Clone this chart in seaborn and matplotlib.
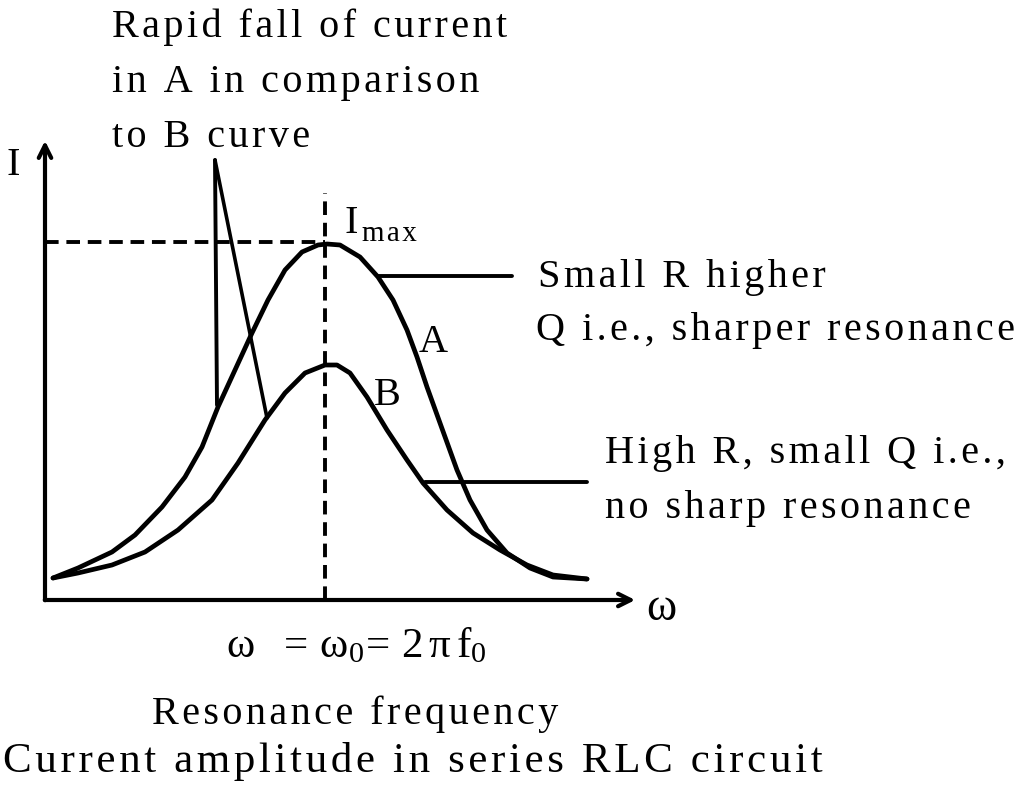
import pandas as pd
import seaborn as sns
import matplotlib.pyplot as plt

sns.set_style("white")
plt.rcParams['font.family'] = ['Liberation Serif', 'DejaVu Serif']
plt.rcParams['mathtext.fontset'] = 'custom'
plt.rcParams['mathtext.rm'] = 'Liberation Serif'
plt.rcParams['mathtext.it'] = 'Liberation Serif'

# curve A (small R, sharp resonance): frequency vs current (arbitrary units)
freq_a = [8, 33, 67, 90, 117, 140, 157, 173, 190, 207, 223, 240, 257, 273, 282,
          295, 315, 333, 348, 362, 372, 382, 395, 412, 425, 442, 462, 485, 508, 542]
curr_a = [22, 32, 48, 65, 93, 123, 153, 193, 230, 267, 300, 330, 348, 355, 356,
          355, 343, 323, 300, 270, 243, 213, 177, 130, 100, 70, 47, 32, 23, 21]

# curve B (high R, broad resonance)
freq_b = [8, 33, 67, 100, 133, 167, 193, 220, 240, 260, 280, 292, 305, 322,
          342, 362, 378, 402, 428, 455, 482, 508, 542]
curr_b = [22, 27, 35, 48, 70, 100, 137, 180, 207, 227, 235, 235, 227, 203,
          170, 140, 117, 90, 67, 50, 35, 25, 21]

f_res = 280      # resonance frequency
i_max = 358      # peak current of A

df = pd.concat([
    pd.DataFrame({"f": freq_a, "I": curr_a, "curve": "A"}),
    pd.DataFrame({"f": freq_b, "I": curr_b, "curve": "B"}),
], ignore_index=True)


def P(px, py):
    # picture pixel -> data units (origin at axis corner)
    return px - 45, 600 - py


def sp(s):
    # wide letter spacing like the original
    return "\u200a".join(s)


fig = plt.figure(figsize=(10.24, 8), dpi=100)
ax = fig.add_axes([0, 0, 1, 1])
ax.set_xlim(-45, 979)
ax.set_ylim(-200, 600)
ax.axis("off")

sns.lineplot(data=df, x="f", y="I", units="curve", estimator=None, sort=False,
             color="black", lw=3.4, ax=ax, legend=False,
             solid_joinstyle="round", solid_capstyle="round")

# axes with open arrow heads
ax.annotate("", xy=P(45, 138), xytext=P(45, 603),
            arrowprops=dict(arrowstyle="->,head_length=0.9,head_width=0.45", lw=3, color="black"))
ax.annotate("", xy=P(638, 600), xytext=P(42, 600),
            arrowprops=dict(arrowstyle="->,head_length=0.9,head_width=0.45", lw=3, color="black"))

# dashed guide lines
ax.plot([0, f_res], [i_max, i_max], ls=(0, (3.5, 2)), lw=2.8, color="black")
ax.plot([f_res, f_res], [0, 407], ls=(0, (3.5, 2)), lw=2.8, color="black")

# pointer lines
ax.plot([170, 172], [440, 195], lw=2.8, color="black")
ax.plot([170, 222], [440, 182], lw=2.6, color="black")
ax.plot([333, 467], [324, 324], lw=2.8, color="black")
ax.plot([380, 542], [118, 118], lw=2.8, color="black")

fs = 29
txt = dict(color="black", fontsize=fs, va="baseline", ha="left")
ax.text(*P(112, 37), sp("Rapid fall of current"), **txt)
ax.text(*P(112, 92), sp("in A in comparison"), **txt)
ax.text(*P(112, 147), sp("to B curve"), **txt)
ax.text(*P(6, 175), "I", **txt)
ax.text(*P(345, 233), "I", **txt)
ax.text(*P(362, 241), sp("max"), color="black", fontsize=21, va="baseline")
ax.text(*P(538, 287), sp("Small R higher"), **txt)
ax.text(*P(536, 340), sp("Q i.e., sharper resonance"), **txt)
ax.text(*P(419, 352), "A", **txt)
ax.text(*P(374, 405), "B", **txt)
ax.text(*P(605, 463), sp("High R, small Q i.e.,"), **txt)
ax.text(*P(605, 518), sp("no sharp resonance"), **txt)
ax.text(*P(226, 657), r"$\omega\ \ =\,\omega_0\! =\, 2\,\pi\, f_0$", color="black", fontsize=31, va="baseline")
ax.text(*P(646, 620), r"$\omega$", color="black", fontsize=33, va="baseline")
ax.text(*P(152, 724), sp("Resonance frequency"), **txt)
ax.text(*P(3, 772), sp("Current amplitude in series RLC circuit"), color="black",
        fontsize=31, va="baseline", ha="left")

plt.savefig("out.png", dpi=100)
plt.close()
